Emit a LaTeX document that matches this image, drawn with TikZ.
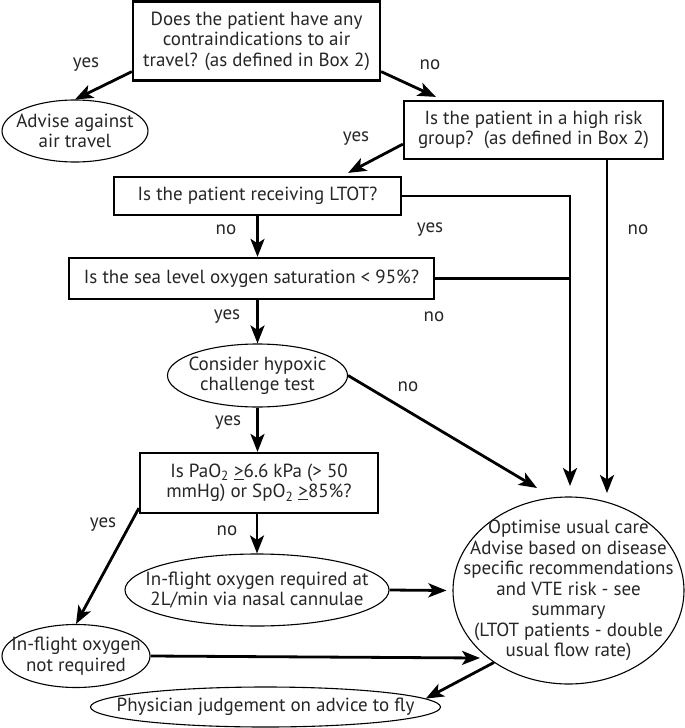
\documentclass[tikz,border=0pt]{standalone}
\usepackage{fontspec}
\setmainfont{PT Sans}
\usetikzlibrary{arrows.meta,shapes.geometric}
\begin{document}
\begin{tikzpicture}[x=1pt,y=-1pt,
  txt/.style={font=\fontsize{19}{20.5}\selectfont, text=black!85},
  qbox/.style={draw, line width=2.2pt, rectangle, inner sep=0pt, align=center, txt},
  oval/.style={draw, line width=1.1pt, ellipse, inner sep=0pt},
  lbl/.style={txt, inner sep=0pt},
  arr/.style={line width=2.8pt, -{Stealth[length=18pt,width=14pt,inset=4.5pt]}},
  ln/.style={line width=2.8pt},
]
\fill[white] (0,0) rectangle (685,728);
\useasboundingbox (0,0) rectangle (685,728);

% question boxes
\node[qbox, minimum width=247pt, minimum height=79pt] (b1) at (256.5,41) {Does the patient have any\\contraindications to air\\travel? (as defined in Box 2)};
\node[qbox, minimum width=259pt, minimum height=58pt] (b2) at (533.5,130) {Is the patient in a high risk\\group?\ \ (as defined in Box 2)};
\node[qbox, minimum width=287pt, minimum height=38pt] (b3) at (257.5,196) {Is the patient receiving LTOT?};
\node[qbox, minimum width=365pt, minimum height=41pt] (b4) at (251.5,278.5) {Is the sea level oxygen saturation < 95\%?};
\node[qbox, minimum width=238pt, minimum height=60pt] (b5) at (259,483) {Is PaO\textsubscript{2} \underline{>}6.6 kPa (> 50\\mmHg) or SpO\textsubscript{2} \underline{>}85\%?};

% ovals
\node[oval, minimum width=146pt, minimum height=62pt, label={[lbl,align=center]center:{Advise against\\air travel}}] (adv) at (75,131) {};
\node[oval, minimum width=180pt, minimum height=63pt, label={[lbl,align=center]center:{Consider hypoxic\\challenge test}}] (cons) at (257.5,375.5) {};
\node[oval, minimum width=264pt, minimum height=72pt, label={[lbl,align=center]center:{In-flight oxygen required at\\2L/min via nasal cannulae}}] (req) at (257,590) {};
\node[oval, minimum width=148pt, minimum height=63pt, label={[lbl,align=center]center:{In-flight oxygen\\not required}}] (nreq) at (76,656) {};
\node[oval, minimum width=350pt, minimum height=40pt, label={[lbl,align=center]center:{Physician judgement on advice to fly}}] (phys) at (265.5,707) {};
\node[oval, minimum width=231pt, minimum height=187pt, label={[lbl,align=center]center:{Optimise usual care\\Advise based on disease\\specific recommendations\\and VTE risk - see\\summary\\(LTOT patients - double\\usual flow rate)}}] (big) at (568.5,590.5) {};

% free arrow ends
\coordinate (t1) at (570,486);
\coordinate (t2) at (607,493);
\coordinate (t3) at (537,488);
\coordinate (t4) at (480,658);

% connectors
\draw[arr] ([yshift=10pt]b1.south west) -- (adv.north);
\draw[arr] ([yshift=10pt]b1.south east) -- ([xshift=33pt,yshift=3pt]b2.north west);
\draw[arr] ([yshift=16pt]b2.south west) -- ([xshift=-54pt,yshift=3pt]b3.north east);
\draw[arr] (b3.east) -| (t1);
\draw[ln] (b4.east) -- (b4.east -| t1);
\draw[arr] (t2 |- b2.south) -- (t2);
\draw[arr] (b3.south) -- (b3.south |- b4.north);
\draw[arr] (b4.south -| cons.north) -- (cons.north);
\draw[arr] (cons.south) -- (cons.south |- b5.north);
\draw[arr] (cons.east) -- (t3);
\draw[arr] (b5.south -| req.north) -- (req.north);
\draw[arr] ([yshift=6pt]b5.south west) -- (nreq.north);
\draw[arr] (req.east) -- ([xshift=-6pt]big.west);
\draw[arr] (nreq.east) -- (t4);
\draw[arr] (big.224) -- (phys.3);

% branch labels
\node[lbl] (l1) at (86,65) {yes};
\node[lbl] (l2) at (430,65) {no};
\node[lbl] (l3) at (356,139) {yes};
\node[lbl] (l4) at (226,230) {no};
\node[lbl] (l5) at (430,230) {yes};
\node[lbl] (l6) at (638,230) {no};
\node[lbl] (l7) at (227,317) {yes};
\node[lbl] (l8) at (434,317) {no};
\node[lbl] (l9) at (408,387) {no};
\node[lbl] (l10) at (228,423) {yes};
\node[lbl] (l11) at (103,525) {yes};
\node[lbl] (l12) at (227,531) {no};
\end{tikzpicture}
\end{document}
